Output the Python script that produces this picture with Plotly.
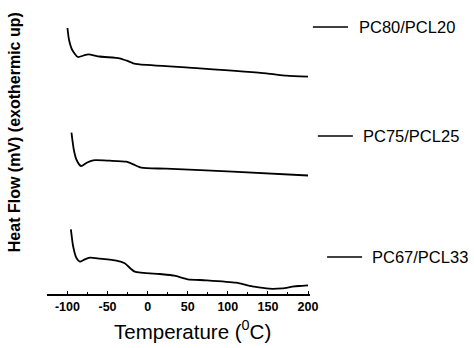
import plotly.graph_objects as go

# Temperature (°C) and heat-flow (arbitrary, stacked) values
t_pc80 = [-100, -98, -94, -87, -80, -74, -60, -35, -26, -18, -10, 65, 148, 173, 200]
hf_pc80 = [26.6, 25.4, 24.4, 23.7, 23.85, 23.97, 23.75, 23.57, 23.33, 23.07, 22.97, 22.57, 22.07, 21.83, 21.73]

t_pc75 = [-95, -92, -88.6, -83, -76, -68, -47, -26.5, -18, -8, 23, 106, 200]
hf_pc75 = [16.13, 14.4, 13.4, 12.8, 13.13, 13.37, 13.33, 13.23, 12.97, 12.63, 12.53, 12.23, 11.85]

t_pc67 = [-95.7, -92.8, -88.6, -84.5, -78.3, -72, -59.6, -38.9, -28.6, -16.1, 14.9, 33.5, 50.1, 72.9,
          110.2, 132.9, 151.6, 168.1, 180.5, 188.8, 200]
hf_pc67 = [6.47, 4.73, 3.57, 3.23, 3.47, 3.63, 3.53, 3.33, 3.07, 2.23, 2.0, 1.83, 1.47, 1.37,
           1.13, 0.73, 0.53, 0.57, 0.73, 0.8, 0.86]

series_names = ["PC80/PCL20", "PC75/PCL25", "PC67/PCL33"]
label_y = [26.7, 15.8, 3.7]
tick_vals = [-100, -50, 0, 50, 100, 150, 200]

fig = go.Figure()
for t, h in [(t_pc80, hf_pc80), (t_pc75, hf_pc75), (t_pc67, hf_pc67)]:
    fig.add_trace(go.Scatter(x=t, y=h, mode="lines",
                             line=dict(color="black", width=1.8, shape="spline", smoothing=0.6),
                             showlegend=False, hoverinfo="skip"))

# legend-like labels at right
line_x = [(1.011, 1.1445), (1.030, 1.163), (1.065, 1.198)]
text_x = [1.179, 1.194, 1.228]
for name, ly, (x0, x1), tx in zip(series_names, label_y, line_x, text_x):
    fig.add_shape(type="line", xref="paper", yref="y", x0=x0, x1=x1, y0=ly, y1=ly,
                  line=dict(color="black", width=1.5))
    fig.add_annotation(xref="paper", yref="y", x=tx, y=ly, text=name, showarrow=False,
                       xanchor="left", yanchor="middle",
                       font=dict(family="Liberation Sans, Arial", size=16.5, color="black"))

fig.add_annotation(xref="paper", yref="paper", x=0.553, y=-0.131,
                   text="Temperature (<sup>0</sup>C)", showarrow=False,
                   xanchor="center", yanchor="middle",
                   font=dict(family="Liberation Sans, Arial", size=20.5, color="black"))
fig.add_annotation(xref="paper", yref="paper", x=-0.125, y=0.591,
                   text="<b>Heat Flow (mV) (exothermic up)</b>", showarrow=False, textangle=-90,
                   xanchor="center", yanchor="middle",
                   font=dict(family="Liberation Sans, Arial", size=16, color="black"))

fig.update_xaxes(range=[-125.5, 202.5], tickvals=tick_vals, ticktext=[f"<b>{v}</b>" for v in tick_vals],
                 showline=True, linecolor="black", linewidth=1.5, ticks="inside", ticklen=3,
                 tickcolor="black", tickwidth=1.2, showgrid=False, zeroline=False,
                 minor=dict(dtick=25, tick0=-100, ticks="inside", ticklen=2, tickcolor="black"),
                 tickfont=dict(family="Liberation Sans, Arial", size=12.5, color="black"))
fig.update_yaxes(range=[0, 27.4], visible=False, showgrid=False, zeroline=False)

fig.update_layout(width=474, height=348, margin=dict(l=47, r=164, t=20, b=54),
                  plot_bgcolor="white", paper_bgcolor="white")
fig.write_html("out.html")
